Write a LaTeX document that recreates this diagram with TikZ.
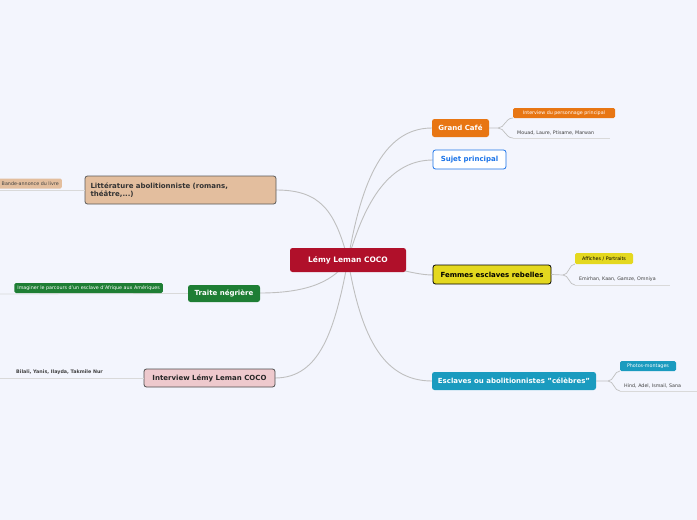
\documentclass[tikz,border=0pt]{standalone}
\usepackage{fontspec}
\setmainfont{DejaVu Sans}
\begin{document}
\begin{tikzpicture}[x=1pt,y=-1pt,
 main/.style={rounded corners=2.5pt,font=\bfseries\fontsize{7}{8.5}\selectfont,inner sep=0pt,align=center},
 sub/.style={rounded corners=1.5pt,font=\fontsize{4.8}{6}\selectfont,inner sep=0pt},
 txt/.style={font=\fontsize{4.8}{6}\selectfont,text=black!75,inner sep=0pt,anchor=west},
 con/.style={draw=black!25,line width=0.9pt},
 ul/.style={draw=black!15,line width=0.8pt}]
\definecolor{bg}{HTML}{F3F5FD}
\definecolor{cred}{HTML}{B0102A}
\definecolor{corange}{HTML}{E87613}
\definecolor{cblue}{HTML}{1A73E8}
\definecolor{cyel}{HTML}{E4D81F}
\definecolor{cteal}{HTML}{1A9BBF}
\definecolor{ctan}{HTML}{E3BE9E}
\definecolor{cgreen}{HTML}{1E7E34}
\definecolor{cpink}{HTML}{EEC9CD}
\fill[bg] (0,0) rectangle (697,520);
\useasboundingbox (0,0) rectangle (697,520);
\clip (0,0) rectangle (697,520);
% connectors
\coordinate (c) at (348,260);
\draw[con] (c) .. controls (360,190) and (380,128) .. (432,128);
\draw[con] (c) .. controls (365,200) and (390,160) .. (433,160);
\draw[con] (c) .. controls (380,262) and (410,275) .. (433,275);
\draw[con] (c) .. controls (360,330) and (380,381) .. (432,381);
\draw[con] (c) .. controls (335,210) and (320,190) .. (276,190);
\draw[con] (c) .. controls (335,280) and (310,293) .. (260,293);
\draw[con] (c) .. controls (335,330) and (320,378) .. (275,378);
% center
\node[main,fill=cred,text=white,minimum width=116pt,minimum height=24pt,font=\bfseries\fontsize{7.5}{9}\selectfont] (center) at (348,260) {Lémy Leman COCO};
% Grand Café
\node[main,fill=corange,text=white,minimum width=57pt,minimum height=18pt] (gc) at (460.5,128) {Grand Café};
\draw[con,line width=0.7pt] (gc.east) -- (498,128) .. controls (505,128) and (505,118) .. (513,118);
\draw[con,line width=0.7pt] (498,128) .. controls (505,128) and (505,138) .. (513,138);
\node[sub,fill=corange,text=white,minimum width=102pt,minimum height=10pt] (gc1) at (564,113) {Interview du personnage principal};
\draw[ul] (513,138) -- (610,138);
\node[txt] (gc2) at (517,132.5) {Mouad, Laure, Ptisame, Marwan};
% Sujet
\node[main,fill=white,draw=cblue,line width=0.8pt,text=cblue,minimum width=73pt,minimum height=19pt] (sp) at (469.5,159.5) {Sujet principal};
% Femmes
\node[main,fill=cyel,draw=black,line width=0.8pt,text=black,minimum width=118pt,minimum height=19pt] (fe) at (492,274.5) {Femmes esclaves rebelles};
\draw[con,line width=0.7pt] (fe.east) -- (563,275) .. controls (569,275) and (569,264) .. (575,264);
\draw[con,line width=0.7pt] (563,275) .. controls (569,275) and (569,285) .. (575,285);
\node[sub,fill=cyel,text=black,minimum width=58pt,minimum height=11pt] (fe1) at (604,258.5) {Affiches / Portraits};
\draw[ul] (575,285) -- (670,285);
\node[txt] (fe2) at (579,279) {Emirhan, Kaan, Gamze, Omniya};
% Esclaves
\node[main,fill=cteal,text=white,minimum width=164pt,minimum height=18pt] (es) at (514,381) {Esclaves ou abolitionnistes "célèbres"};
\draw[con,line width=0.7pt] (es.east) -- (608,381) .. controls (614,381) and (614,371) .. (620,371);
\draw[con,line width=0.7pt] (608,381) .. controls (614,381) and (614,391) .. (620,391);
\node[sub,fill=cteal,text=white,minimum width=56pt,minimum height=10pt] (es1) at (648,366) {Photos-montages};
\draw[ul] (620,391) -- (697,391);
\node[txt] (es2) at (624,385.5) {Hind, Adel, Ismail, Sana};
% Littérature
\node[main,fill=ctan,draw=black!65,line width=0.8pt,text=black!80,minimum width=191pt,minimum height=28pt,align=left,text width=180pt] (li) at (180.5,190) {Littérature abolitionniste (romans,\\théâtre,...)};
\draw[ul] (0,190) -- (li.west);
\node[sub,fill=ctan,text=black!75,minimum height=10pt,anchor=east,inner xsep=3pt] (li1) at (62,183.5) {Bande-annonce du livre};
% Traite
\node[main,fill=cgreen,text=white,minimum width=72pt,minimum height=17pt] (tr) at (224,293.5) {Traite négrière};
\draw[ul] (0,294) -- (tr.west);
\node[sub,fill=cgreen,text=white,minimum height=10pt,anchor=east,inner xsep=3pt] (tr1) at (163,288) {Imaginer le parcours d'un esclave d'Afrique aux Amériques};
% Interview
\node[main,fill=cpink,draw=black!70,line width=0.8pt,text=black!85,minimum width=131pt,minimum height=18pt] (iv) at (209.5,378) {Interview Lémy Leman COCO};
\draw[ul] (0,378) -- (iv.west);
\node[txt,font=\bfseries\fontsize{4.8}{6}\selectfont] (iv1) at (16,372.5) {Bilali, Yanis, Ilayda, Takmile Nur};
\end{tikzpicture}
\end{document}
